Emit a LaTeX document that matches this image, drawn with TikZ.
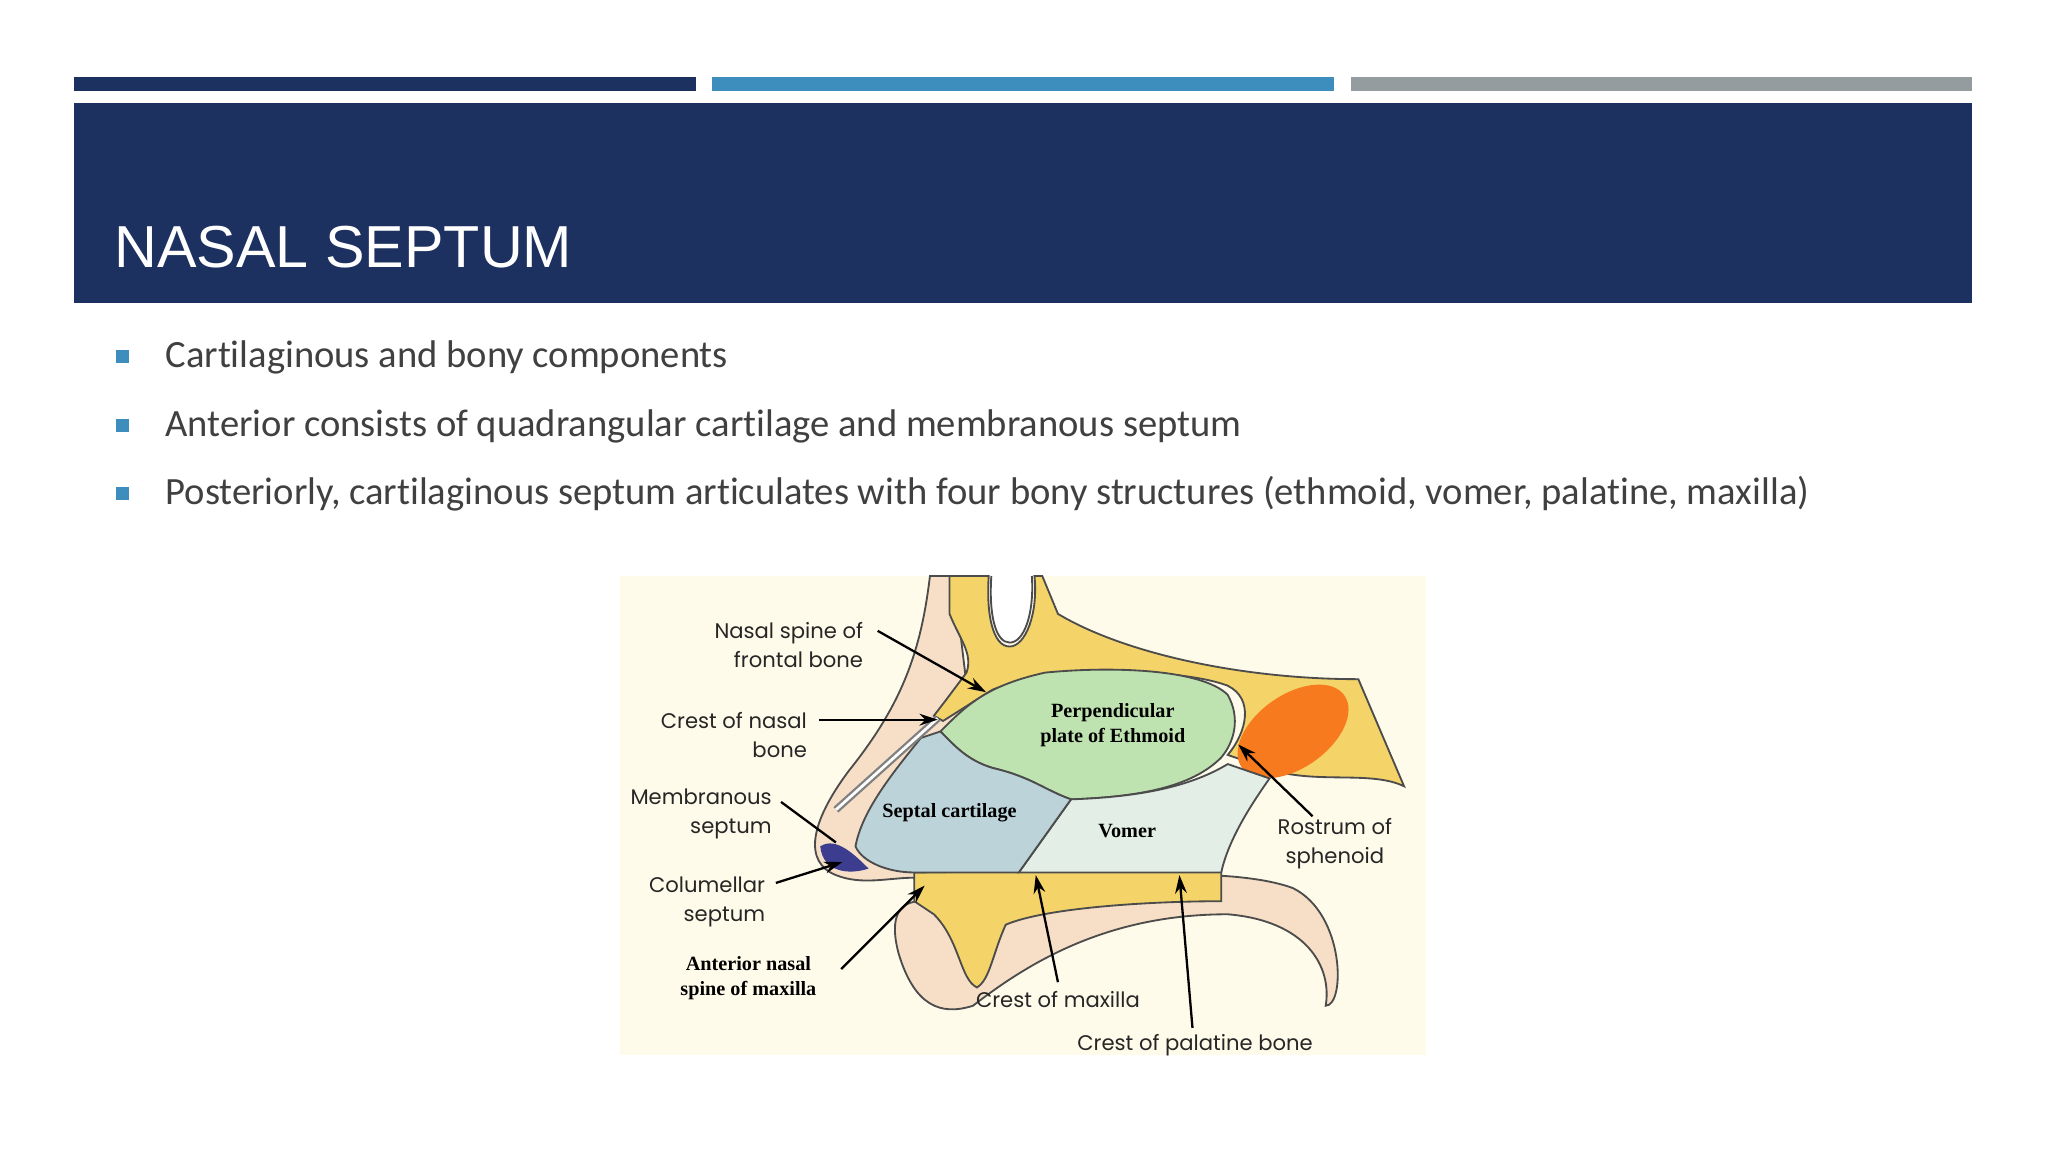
\documentclass[tikz,border=0pt]{standalone}
\usepackage{fontspec}
\setmainfont{Carlito}[Ligatures=NoCommon]
\newfontfamily\ttl{Liberation Sans}
\newfontfamily\lab{Poppins}
\newfontfamily\ser{Liberation Serif}
\usetikzlibrary{arrows.meta}
\definecolor{navy}{HTML}{1C3160}
\definecolor{bblue}{HTML}{3E8EBD}
\definecolor{bgray}{HTML}{949CA0}
\definecolor{txt}{HTML}{404040}
\definecolor{cream}{HTML}{FFFBEA}
\definecolor{skin}{HTML}{F6DFC6}
\definecolor{bone}{HTML}{F4D468}
\definecolor{grn}{HTML}{BFE3B0}
\definecolor{cart}{HTML}{BCD3DA}
\definecolor{vom}{HTML}{E2EEE6}
\definecolor{orng}{HTML}{F77A1E}
\tikzset{
 bul/.style={fill=bblue,minimum size=0.1cm,inner sep=0pt},
 btxt/.style={anchor=base west,text=txt,font=\fontsize{8.4}{10}\selectfont,inner sep=0pt},
 lbl/.style={font=\lab\fontsize{4.6}{6.3}\selectfont,align=right,inner sep=1pt,text=black!85},
 slbl/.style={font=\ser\bfseries\fontsize{4.4}{5.4}\selectfont,align=center,inner sep=1pt},
 arr/.style={-{Stealth[length=0.14cm,width=0.09cm]},line width=0.5pt},
 outl/.style={draw=black!70,line width=0.4pt}
}
\begin{document}
\begin{tikzpicture}[x=0.01cm,y=-0.01cm]
\useasboundingbox (0,0) rectangle (1568,882);
\fill[white] (0,0) rectangle (1568,882);
\fill[navy] (57,59) rectangle (533,70);
\fill[bblue] (545,59) rectangle (1021,70);
\fill[bgray] (1034,59) rectangle (1510,70);
\fill[navy] (57,79) rectangle (1510,232);
\node[anchor=base west,text=white,font=\ttl\fontsize{12.9}{15}\selectfont,inner sep=0pt] (title) at (87,205) {NASAL SEPTUM};
\foreach \y/\t [count=\i] in {273/{Cartilaginous and bony components},326/{Anterior consists of quadrangular cartilage and membranous septum},378/{Posteriorly, cartilaginous septum articulates with four bony structures (ethmoid, vomer, palatine, maxilla)}}{
 \node[bul] (b\i) at (94,\y) {};
 \node[btxt] (t\i) at (126,\y+8) {\t};
}
% picture background
\fill[cream] (475,441) rectangle (1092,808);
% skin / soft tissue
\fill[skin,outl] (712,441) .. controls (705,500) and (690,540) .. (650,590) .. controls (620,630) and (615,660) .. (640,670) .. controls (660,678) and (680,672) .. (700,672) -- (705,690) .. controls (690,690) and (680,700) .. (688,730) .. controls (700,770) and (720,778) .. (745,770) .. controls (790,735) and (850,700) .. (940,700) .. controls (1000,705) and (1020,740) .. (1015,770) .. controls (1030,770) and (1030,700) .. (990,680) .. controls (950,665) and (850,665) .. (760,690) -- (730,441) -- cycle;
% bone
\fill[bone,outl] (727,441) -- (727,470) .. controls (735,490) and (745,500) .. (740,515) -- (725,535) -- (715,548) -- (722,552) -- (760,528) .. controls (800,512) and (900,510) .. (940,525) .. controls (960,535) and (955,560) .. (940,578) -- (975,590) .. controls (1010,600) and (1050,590) .. (1075,602) -- (1040,520) .. controls (950,520) and (860,500) .. (810,470) -- (798,441) -- (792,441) .. controls (795,470) and (785,495) .. (773,495) .. controls (760,495) and (755,470) .. (757,441) -- cycle;
\fill[white,draw=black!70,line width=0.4pt] (759,441) .. controls (757,470) and (762,492) .. (773,492) .. controls (784,492) and (792,470) .. (790,441);
\fill[orng,rotate around={35:(990,560)}] (990,560) ellipse (48 and 28);
% maxilla crest
\fill[bone,outl] (700,668) -- (935,665) -- (935,690) .. controls (880,690) and (800,695) .. (770,708) .. controls (760,730) and (758,750) .. (748,756) .. controls (735,750) and (735,720) .. (715,700) -- (700,690) -- cycle;
% perpendicular plate
\fill[grn,outl] (720,560) .. controls (740,540) and (755,525) .. (800,515) .. controls (850,510) and (920,512) .. (940,532) .. controls (950,550) and (945,568) .. (935,580) .. controls (915,600) and (880,610) .. (820,612) .. controls (800,605) and (790,595) .. (760,588) .. controls (740,582) and (730,570) .. (720,560) -- cycle;
% vomer
\fill[vom,outl] (820,612) .. controls (880,610) and (915,600) .. (940,585) -- (972,596) .. controls (955,620) and (940,645) .. (935,668) -- (780,668) -- cycle;
% septal cartilage
\fill[cart,outl] (705,565) -- (720,560) .. controls (730,570) and (740,582) .. (760,588) .. controls (790,595) and (800,605) .. (820,612) -- (780,668) -- (700,668) .. controls (680,668) and (660,660) .. (655,648) .. controls (660,620) and (685,590) .. (705,565) -- cycle;
% nasal bone line
\draw[gray,line width=1.6pt] (640,620) -- (718,550);
\draw[white,line width=0.6pt] (640,620) -- (718,550);
% columellar
\fill[blue!40!gray!80!black] (628,648) .. controls (640,640) and (655,655) .. (665,665) .. controls (650,670) and (630,668) .. (628,648) -- cycle;
% labels
\node[lbl,anchor=north east] (ns) at (665,472) {Nasal spine of\\frontal bone};
\node[lbl,anchor=north east] (cn) at (622,541) {Crest of nasal\\bone};
\node[lbl,anchor=north east] (ms) at (595,600) {Membranous\\septum};
\node[lbl,anchor=north east] (cs) at (590,667) {Columellar\\septum};
\node[slbl] (an) at (573,749) {Anterior nasal\\spine of maxilla};
\node[lbl] (cm) at (810,765) {Crest of maxilla};
\node[lbl] (cp) at (915,800) {Crest of palatine bone};
\node[lbl,align=center] (rs) at (1022,646) {Rostrum of\\sphenoid};
\node[slbl] (pp) at (852,555) {Perpendicular\\plate of Ethmoid};
\node[slbl] (sc) at (727,622) {Septal cartilage};
\node[slbl] (vo) at (863,636) {Vomer};
\coordinate (pns) at (755,530);
\coordinate (pcn) at (718,551);
\coordinate (pms) at (640,645);
\coordinate (pcs) at (645,660);
\coordinate (pan) at (708,678);
\coordinate (pcm) at (793,670);
\coordinate (pcp) at (903,670);
\coordinate (prs) at (948,570);
\draw[arr] (672,483) -- (pns);
\draw[arr] (627,551) -- (pcn);
\draw[line width=0.5pt] (598,614) -- (pms);
\draw[arr] (594,676) -- (pcs);
\draw[arr] (644,742) -- (pan);
\draw[arr] (810,752) -- (pcm);
\draw[arr] (913,787) -- (pcp);
\draw[arr] (1005,625) -- (prs);
\end{tikzpicture}
\end{document}
